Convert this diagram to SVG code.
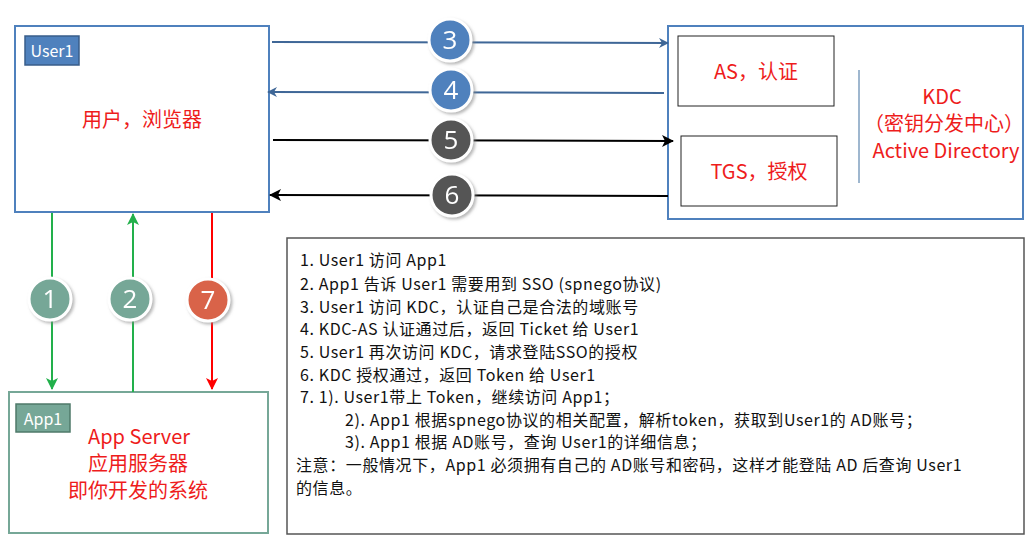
<svg xmlns="http://www.w3.org/2000/svg" width="1035" height="551" viewBox="0 0 1035 551">
<defs>
<style>
text{font-family:"Noto Sans CJK SC","Noto Sans",sans-serif}
.red{fill:#ee1c1c;font-size:20px;text-anchor:middle}
.lst{font-size:16px;fill:#111;letter-spacing:0.6px}
.num{fill:#fff;font-size:26px;text-anchor:middle;font-family:"Open Sans","Noto Sans",sans-serif}
.bdg{stroke:#fff;stroke-width:3}
</style>
<marker id="ab" markerWidth="10" markerHeight="10" refX="9" refY="5" orient="auto" markerUnits="userSpaceOnUse" viewBox="0 0 10 10"><path d="M0,0L10,5L0,10L3,5z" fill="#3f6797"/></marker>
<marker id="ak" markerWidth="12" markerHeight="12" refX="11" refY="6" orient="auto" markerUnits="userSpaceOnUse" viewBox="0 0 12 12"><path d="M0,0L12,6L0,12L3,6z" fill="#000"/></marker>
<marker id="ag" markerWidth="12" markerHeight="12" refX="11" refY="6" orient="auto" markerUnits="userSpaceOnUse" viewBox="0 0 12 12"><path d="M0,0L12,6L0,12L3,6z" fill="#22b04b"/></marker>
<marker id="ar" markerWidth="12" markerHeight="12" refX="11" refY="6" orient="auto" markerUnits="userSpaceOnUse" viewBox="0 0 12 12"><path d="M0,0L12,6L0,12L3,6z" fill="#f00"/></marker>
<filter id="sh"><feDropShadow dx="2" dy="2" stdDeviation="1.5" flood-color="#888" flood-opacity="0.6"/></filter>
</defs>
<rect width="1035" height="551" fill="#fff"/>
<g id="user1">
<rect x="15" y="26" width="254" height="186" fill="#fff" stroke="#4f81bd" stroke-width="2"/>
<rect x="25" y="36" width="54" height="29" fill="#4f81bd" stroke="#385d8a" stroke-width="1.5"/>
<text x="52" y="57" fill="#fff" font-size="16" text-anchor="middle">User1</text>
<text x="142" y="127" class="red">用户，浏览器</text>
</g>
<g id="kdc">
<rect x="668" y="26" width="355" height="193" fill="#fff" stroke="#4f81bd" stroke-width="2"/>
<rect x="678" y="36" width="156" height="70" fill="#fff" stroke="#222" stroke-width="1"/>
<text x="756" y="79" class="red">AS，认证</text>
<rect x="681" y="136" width="156" height="70" fill="#fff" stroke="#222" stroke-width="1"/>
<text x="759" y="179" class="red">TGS，授权</text>
<line x1="859" y1="70" x2="859" y2="183" stroke="#7f9fbf" stroke-width="1.5"/>
<text x="942" y="104" class="red" font-size="21">KDC</text>
<text x="944" y="131" class="red" font-size="21">（密钥分发中心）</text>
<text x="946" y="158" class="red" font-size="21">Active Directory</text>
</g>
<g id="app1">
<rect x="9" y="392" width="259" height="141" fill="#fff" stroke="#76a797" stroke-width="2"/>
<rect x="16" y="404" width="54" height="28" fill="#76a797" stroke="#4f7a6a" stroke-width="1.5"/>
<text x="43" y="425" fill="#fff" font-size="16" text-anchor="middle">App1</text>
<text x="139" y="444" class="red" font-size="20">App Server</text>
<text x="138" y="471" class="red">应用服务器</text>
<text x="138" y="498" class="red">即你开发的系统</text>
</g>
<g id="notes" xml:space="preserve">
<rect x="287" y="238" width="737" height="296" fill="#fff" stroke="#555" stroke-width="1.5"/>
<text class="lst" x="300" y="266">1.  User1 访问 App1</text>
<text class="lst" x="300" y="290">2.  App1 告诉 User1 需要用到 SSO (spnego协议)</text>
<text class="lst" x="300" y="313">3.  User1 访问 KDC，认证自己是合法的域账号</text>
<text class="lst" x="300" y="335">4.  KDC-AS 认证通过后，返回 Ticket 给 User1</text>
<text class="lst" x="300" y="358">5.  User1 再次访问 KDC，请求登陆SSO的授权</text>
<text class="lst" x="300" y="381">6.  KDC 授权通过，返回 Token 给 User1</text>
<text class="lst" x="300" y="403">7.  1). User1带上 Token，继续访问 App1；</text>
<text class="lst" x="345" y="426">2). App1 根据spnego协议的相关配置，解析token，获取到User1的 AD账号；</text>
<text class="lst" x="345" y="448">3). App1 根据 AD账号，查询 User1的详细信息；</text>
<text class="lst" x="296" y="471">注意：一般情况下，App1 必须拥有自己的 AD账号和密码，这样才能登陆 AD 后查询 User1</text>
<text class="lst" x="296" y="494">的信息。</text>
</g>
<g id="connectors" fill="none" stroke-width="2">
<line x1="272" y1="42" x2="668" y2="43" stroke="#3f6797" marker-end="url(#ab)"/>
<line x1="664" y1="93" x2="268" y2="92" stroke="#3f6797" marker-end="url(#ab)"/>
<line x1="273" y1="140" x2="673" y2="141" stroke="#000" marker-end="url(#ak)"/>
<line x1="668" y1="196" x2="270" y2="195" stroke="#000" marker-end="url(#ak)"/>
<line x1="52" y1="213" x2="52" y2="389" stroke="#22b04b" marker-end="url(#ag)"/>
<line x1="133" y1="392" x2="133" y2="214" stroke="#22b04b" marker-end="url(#ag)"/>
<line x1="212" y1="213" x2="212" y2="389" stroke="#f00" marker-end="url(#ar)"/>
</g>
<g id="badges" filter="url(#sh)">
<circle class="bdg" cx="450" cy="40" r="21" fill="#4f81bd"/><text class="num" x="450" y="49">3</text>
<circle class="bdg" cx="451" cy="90" r="21" fill="#4f81bd"/><text class="num" x="451" y="99">4</text>
<circle class="bdg" cx="451" cy="140" r="21" fill="#555"/><text class="num" x="451" y="149">5</text>
<circle class="bdg" cx="452" cy="195" r="21" fill="#555"/><text class="num" x="452" y="204">6</text>
<circle class="bdg" cx="50" cy="299" r="21" fill="#76a797"/><text class="num" x="50" y="308">1</text>
<circle class="bdg" cx="130" cy="299" r="21" fill="#76a797"/><text class="num" x="130" y="308">2</text>
<circle class="bdg" cx="208" cy="300" r="21" fill="#d9644a"/><text class="num" x="208" y="309">7</text>
</g>
</svg>
